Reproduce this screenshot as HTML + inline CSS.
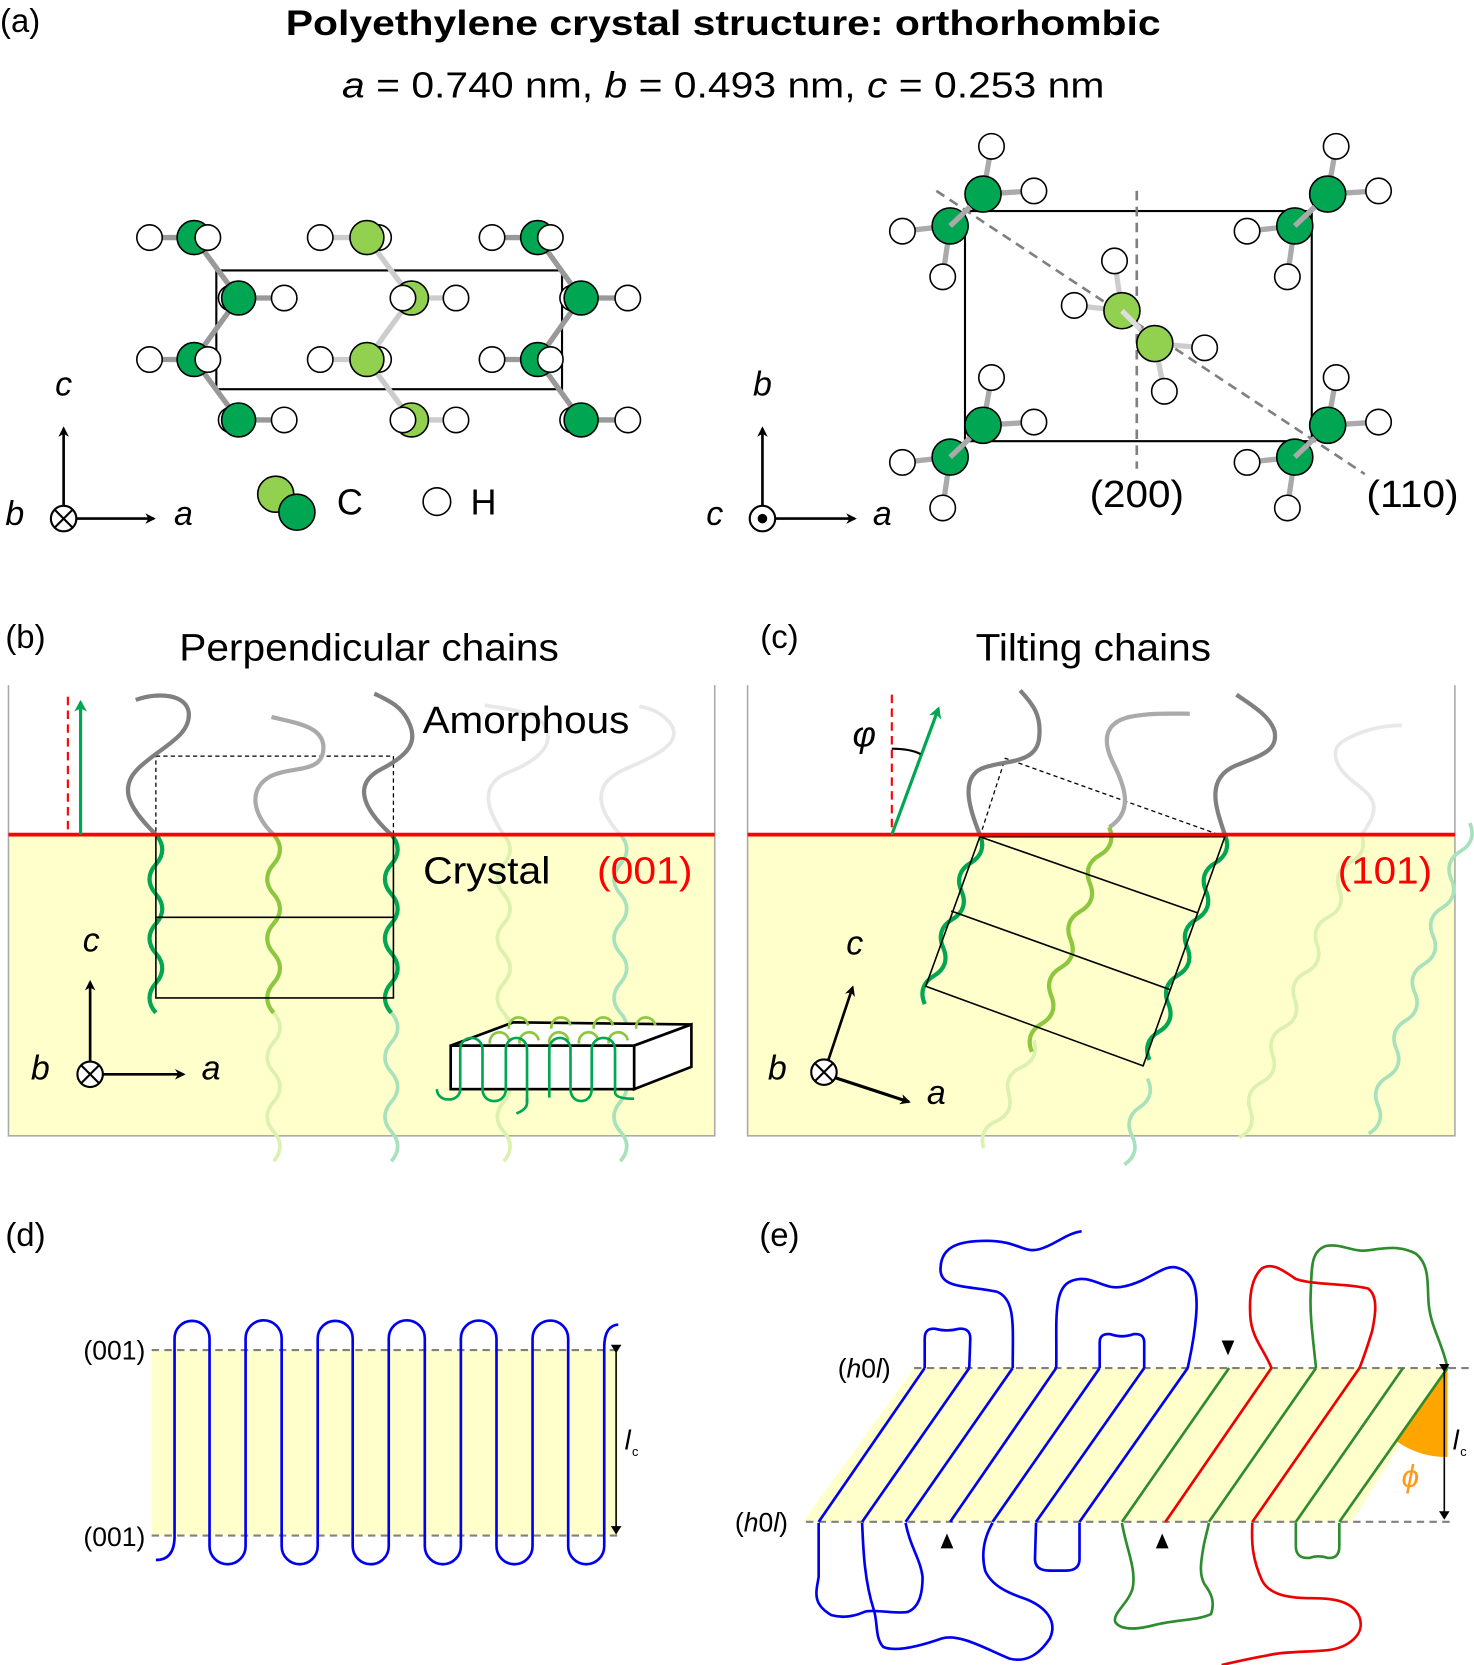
<!DOCTYPE html>
<html><head><meta charset="utf-8"><style>
html,body{margin:0;padding:0;background:#fff;}
svg{display:block;}
text{font-family:"Liberation Sans",Arial,sans-serif;}
</style></head><body>
<svg width="1474" height="1665" viewBox="0 0 1390 1570" preserveAspectRatio="none" xmlns="http://www.w3.org/2000/svg">
<defs>
<path id="w3" d="M0,0 c8,9 8,19 0,28 s-8,19 0,28 s8,19 0,28"/>
<path id="w4" d="M0,0 c8,9 8,19 0,28 s-8,19 0,28 s8,19 0,28 s-8,19 0,28"/>
<path id="w5" d="M0,0 c8,9 8,19 0,28 s-8,19 0,28 s8,19 0,28 s-8,19 0,28 s8,19 0,28"/>
<path id="w6" d="M0,0 c8,9 8,19 0,28 s-8,19 0,28 s8,19 0,28 s-8,19 0,28 s8,19 0,28 s-8,19 0,28"/>
<path id="w8" d="M0,0 c8,9 8,19 0,28 s-8,19 0,28 s8,19 0,28 s-8,19 0,28 s8,19 0,28 s-8,19 0,28 s8,19 0,28 s-8,19 0,28"/>
<path id="w11" d="M0,0 c8,9 8,19 0,28 s-8,19 0,28 s8,19 0,28 s-8,19 0,28 s8,19 0,28 s-8,19 0,28 s8,19 0,28 s-8,19 0,28 s8,19 0,28 s-8,19 0,28 s8,19 0,28"/>
<marker id="ah" markerWidth="10" markerHeight="10" refX="8" refY="5" orient="auto" markerUnits="userSpaceOnUse"><path d="M0,0 L10,5 L0,10 L3,5 Z" fill="#000"/></marker>
<marker id="ahg" markerWidth="12" markerHeight="12" refX="9" refY="6" orient="auto" markerUnits="userSpaceOnUse"><path d="M0,0 L11,6 L0,12 L3,6 Z" fill="#00a651"/></marker>
<marker id="ahs" markerWidth="8" markerHeight="10" refX="7" refY="5" orient="auto" markerUnits="userSpaceOnUse"><path d="M0,0 L8,5 L0,10 Z" fill="#000"/></marker>
</defs>

<!-- ============ (a) ============ -->
<text x="0" y="30" font-size="31">(a)</text>
<text x="682" y="33" font-size="33" font-weight="bold" text-anchor="middle" textLength="825" lengthAdjust="spacingAndGlyphs">Polyethylene crystal structure: orthorhombic</text>
<text x="682" y="92" font-size="34" text-anchor="middle" textLength="719" lengthAdjust="spacingAndGlyphs"><tspan font-style="italic">a</tspan> = 0.740 nm, <tspan font-style="italic">b</tspan> = 0.493 nm, <tspan font-style="italic">c</tspan> = 0.253 nm</text>

<!-- left structure -->
<rect x="204" y="255" width="326" height="112" fill="none" stroke="#000" stroke-width="2"/>
<g stroke="#999" stroke-width="5">
<polyline points="183,224 225,281 183,339 225,396" fill="none"/>
<polyline points="507,224 548,281 507,339 548,396" fill="none"/>
<line x1="141" y1="224" x2="183" y2="224"/><line x1="141" y1="339" x2="183" y2="339"/>
<line x1="464" y1="224" x2="507" y2="224"/><line x1="464" y1="339" x2="507" y2="339"/>
<line x1="225" y1="281" x2="268" y2="281"/><line x1="225" y1="396" x2="268" y2="396"/>
<line x1="548" y1="281" x2="592" y2="281"/><line x1="548" y1="396" x2="592" y2="396"/>
</g>
<g stroke="#ccc" stroke-width="5">
<polyline points="346,224 388,281 346,339 388,396" fill="none"/>
<line x1="302" y1="224" x2="346" y2="224"/><line x1="302" y1="339" x2="346" y2="339"/>
<line x1="388" y1="281" x2="430" y2="281"/><line x1="388" y1="396" x2="430" y2="396"/>
</g>
<g stroke="#000" stroke-width="1.5">
<circle cx="357" cy="224" r="12" fill="#fff"/><circle cx="357" cy="339" r="12" fill="#fff"/>
<circle cx="218" cy="281" r="12" fill="#fff"/><circle cx="218" cy="396" r="12" fill="#fff"/>
<circle cx="540" cy="281" r="12" fill="#fff"/><circle cx="540" cy="396" r="12" fill="#fff"/>
<circle cx="183" cy="224" r="16" fill="#00a651"/><circle cx="183" cy="339" r="16" fill="#00a651"/>
<circle cx="507" cy="224" r="16" fill="#00a651"/><circle cx="507" cy="339" r="16" fill="#00a651"/>
<circle cx="225" cy="281" r="16" fill="#00a651"/><circle cx="225" cy="396" r="16" fill="#00a651"/>
<circle cx="548" cy="281" r="16" fill="#00a651"/><circle cx="548" cy="396" r="16" fill="#00a651"/>
<circle cx="346" cy="224" r="16" fill="#92d050"/><circle cx="346" cy="339" r="16" fill="#92d050"/>
<circle cx="388" cy="281" r="16" fill="#92d050"/><circle cx="388" cy="396" r="16" fill="#92d050"/>
<circle cx="141" cy="224" r="12" fill="#fff"/><circle cx="196" cy="224" r="12" fill="#fff"/>
<circle cx="141" cy="339" r="12" fill="#fff"/><circle cx="196" cy="339" r="12" fill="#fff"/>
<circle cx="302" cy="224" r="12" fill="#fff"/><circle cx="302" cy="339" r="12" fill="#fff"/>
<circle cx="464" cy="224" r="12" fill="#fff"/><circle cx="519" cy="224" r="12" fill="#fff"/>
<circle cx="464" cy="339" r="12" fill="#fff"/><circle cx="519" cy="339" r="12" fill="#fff"/>
<circle cx="268" cy="281" r="12" fill="#fff"/><circle cx="268" cy="396" r="12" fill="#fff"/>
<circle cx="380" cy="281" r="12" fill="#fff"/><circle cx="430" cy="281" r="12" fill="#fff"/>
<circle cx="380" cy="396" r="12" fill="#fff"/><circle cx="430" cy="396" r="12" fill="#fff"/>
<circle cx="592" cy="281" r="12" fill="#fff"/><circle cx="592" cy="396" r="12" fill="#fff"/>
</g>
<line x1="60" y1="477" x2="60" y2="404" stroke="#000" stroke-width="2.5" marker-end="url(#ah)"/>
<line x1="72" y1="489" x2="145" y2="489" stroke="#000" stroke-width="2.5" marker-end="url(#ah)"/>
<circle cx="60" cy="489" r="12" fill="#fff" stroke="#000" stroke-width="2"/>
<line x1="52" y1="481" x2="68" y2="497" stroke="#000" stroke-width="2"/><line x1="68" y1="481" x2="52" y2="497" stroke="#000" stroke-width="2"/>
<text x="60" y="373" font-size="32" font-style="italic" text-anchor="middle">c</text>
<text x="14" y="495" font-size="32" font-style="italic" text-anchor="middle">b</text>
<text x="173" y="495" font-size="32" font-style="italic" text-anchor="middle">a</text>
<circle cx="260" cy="466" r="17" fill="#92d050" stroke="#000" stroke-width="1.5"/>
<circle cx="280" cy="483" r="17" fill="#00a651" stroke="#000" stroke-width="1.5"/>
<text x="330" y="485" font-size="34" text-anchor="middle">C</text>
<circle cx="412" cy="473" r="13" fill="#fff" stroke="#000" stroke-width="1.5"/>
<text x="456" y="485" font-size="34" text-anchor="middle">H</text>

<!-- right structure -->
<rect x="910" y="199" width="327" height="217" fill="none" stroke="#000" stroke-width="2"/>
<g stroke="#aaa" stroke-width="5">
<g id="cnr">
<line x1="896" y1="213" x2="927" y2="183"/><line x1="927" y1="183" x2="935" y2="138"/><line x1="927" y1="183" x2="975" y2="180"/>
<line x1="896" y1="213" x2="851" y2="218"/><line x1="896" y1="213" x2="889" y2="261"/>
</g>
<use href="#cnr" transform="translate(325,0)"/><use href="#cnr" transform="translate(0,218)"/><use href="#cnr" transform="translate(325,218)"/>
</g>
<g stroke="#ccc" stroke-width="5">
<line x1="1058" y1="293" x2="1089" y2="324"/><line x1="1058" y1="293" x2="1051" y2="246"/><line x1="1058" y1="293" x2="1013" y2="288"/>
<line x1="1089" y1="324" x2="1136" y2="328"/><line x1="1089" y1="324" x2="1098" y2="369"/>
</g>
<line x1="1072" y1="180" x2="1072" y2="442" stroke="#808080" stroke-width="2.5" stroke-dasharray="9,6"/>
<line x1="883" y1="180" x2="1287" y2="447" stroke="#808080" stroke-width="2.5" stroke-dasharray="9,6"/>
<g stroke="#000" stroke-width="1.5">
<g id="cnrA">
<circle cx="935" cy="138" r="12" fill="#fff"/><circle cx="975" cy="180" r="12" fill="#fff"/>
<circle cx="851" cy="218" r="12" fill="#fff"/><circle cx="889" cy="261" r="12" fill="#fff"/>
<circle cx="927" cy="183" r="17" fill="#00a651"/><circle cx="896" cy="213" r="17" fill="#00a651"/>
</g>
<use href="#cnrA" transform="translate(325,0)"/><use href="#cnrA" transform="translate(0,218)"/><use href="#cnrA" transform="translate(325,218)"/>
<circle cx="1051" cy="246" r="12" fill="#fff"/><circle cx="1013" cy="288" r="12" fill="#fff"/>
<circle cx="1136" cy="328" r="12" fill="#fff"/><circle cx="1098" cy="369" r="12" fill="#fff"/>
<circle cx="1058" cy="293" r="17" fill="#92d050"/><circle cx="1089" cy="324" r="17" fill="#92d050"/>
</g>
<g stroke="#aaa" stroke-width="5">
<line x1="896" y1="213" x2="915" y2="195"/><line x1="1221" y1="213" x2="1240" y2="195"/>
<line x1="896" y1="431" x2="915" y2="413"/><line x1="1221" y1="431" x2="1240" y2="413"/>
</g>
<g stroke="#ddd" stroke-width="5"><line x1="1058" y1="293" x2="1075" y2="310"/></g>
<text x="1072" y="478" font-size="36" text-anchor="middle" textLength="89" lengthAdjust="spacingAndGlyphs">(200)</text>
<text x="1332" y="478" font-size="36" text-anchor="middle" textLength="87" lengthAdjust="spacingAndGlyphs">(110)</text>
<line x1="719" y1="477" x2="719" y2="404" stroke="#000" stroke-width="2.5" marker-end="url(#ah)"/>
<line x1="731" y1="489" x2="806" y2="489" stroke="#000" stroke-width="2.5" marker-end="url(#ah)"/>
<circle cx="719" cy="489" r="12" fill="#fff" stroke="#000" stroke-width="2"/>
<circle cx="719" cy="489" r="4.5" fill="#000"/>
<text x="719" y="373" font-size="32" font-style="italic" text-anchor="middle">b</text>
<text x="674" y="495" font-size="32" font-style="italic" text-anchor="middle">c</text>
<text x="832" y="495" font-size="32" font-style="italic" text-anchor="middle">a</text>

<!-- ============ (b) ============ -->
<text x="24" y="611" font-size="31" text-anchor="middle">(b)</text>
<text x="348" y="623" font-size="36" text-anchor="middle" textLength="358" lengthAdjust="spacingAndGlyphs">Perpendicular chains</text>
<rect x="8" y="787" width="666" height="284" fill="#ffffcc"/>
<path d="M8,787 V646 M674,646 V1071 H8 V787" fill="none" stroke="#aaa" stroke-width="1.5"/>
<g fill="none" stroke-width="3.5">
<path d="M475,787 C460,765 450,740 480,728 C510,716 525,700 512,682 C500,670 475,668 457,665" stroke="#e8e8e8"/>
<path d="M585,787 C565,765 555,740 590,725 C620,712 645,700 632,682 C622,670 612,668 603,666" stroke="#e8e8e8"/>
<use href="#w11" transform="translate(475,787)" stroke="#dcf0b0"/>
<use href="#w11" transform="translate(585,787)" stroke="#a8e2bc"/>
<use href="#w5" transform="translate(258,955)" stroke="#dcf0b0"/>
<use href="#w5" transform="translate(369,955)" stroke="#a8e2bc"/>
</g>
<rect x="147" y="713" width="224" height="74" fill="none" stroke="#000" stroke-width="1.2" stroke-dasharray="4,3"/>
<g fill="none" stroke-width="4">
<path d="M147,787 C125,765 110,745 130,725 C150,705 180,695 178,672 C176,655 150,652 128,660" stroke="#808080"/>
<path d="M258,787 C240,770 232,745 255,732 C275,722 305,730 305,705 C305,685 280,682 256,676" stroke="#aaa"/>
<path d="M369,787 C345,765 330,740 360,725 C385,712 395,700 385,680 C378,665 365,660 353,654" stroke="#808080"/>
<use href="#w6" transform="translate(147,787)" stroke="#00a651"/>
<use href="#w6" transform="translate(258,787)" stroke="#8dc63f"/>
<use href="#w6" transform="translate(369,787)" stroke="#00a651"/>
</g>
<rect x="147" y="787" width="224" height="154" fill="none" stroke="#000" stroke-width="1.5"/>
<line x1="147" y1="865" x2="371" y2="865" stroke="#000" stroke-width="1.5"/>
<line x1="8" y1="787" x2="674" y2="787" stroke="#f00" stroke-width="3.5"/>
<line x1="64" y1="657" x2="64" y2="787" stroke="#f00" stroke-width="2" stroke-dasharray="8,5"/>
<line x1="76" y1="787" x2="76" y2="662" stroke="#00a651" stroke-width="3" marker-end="url(#ahg)"/>
<text x="496" y="691" font-size="36" text-anchor="middle" textLength="195" lengthAdjust="spacingAndGlyphs">Amorphous</text>
<text x="459" y="833" font-size="36" text-anchor="middle" textLength="120" lengthAdjust="spacingAndGlyphs">Crystal</text>
<text x="608" y="833" font-size="36" fill="#f00" text-anchor="middle" textLength="90" lengthAdjust="spacingAndGlyphs">(001)</text>
<line x1="85" y1="1002" x2="85" y2="926" stroke="#000" stroke-width="2.5" marker-end="url(#ah)"/>
<line x1="97" y1="1013" x2="173" y2="1013" stroke="#000" stroke-width="2.5" marker-end="url(#ah)"/>
<circle cx="85" cy="1013" r="12" fill="#fff" stroke="#000" stroke-width="2"/>
<line x1="77" y1="1005" x2="93" y2="1021" stroke="#000" stroke-width="2"/><line x1="93" y1="1005" x2="77" y2="1021" stroke="#000" stroke-width="2"/>
<text x="86" y="897" font-size="32" font-style="italic" text-anchor="middle">c</text>
<text x="38" y="1018" font-size="32" font-style="italic" text-anchor="middle">b</text>
<text x="199" y="1018" font-size="32" font-style="italic" text-anchor="middle">a</text>
<polygon points="425,986 484,964 652,966 598,986" fill="#fff" stroke="#000" stroke-width="2.5"/>
<polygon points="598,986 652,966 652,1006 598,1027" fill="#fff" stroke="#000" stroke-width="2.5"/>
<rect x="425" y="986" width="173" height="41" fill="#fff" stroke="#000" stroke-width="2.5"/>
<g fill="none" stroke="#8dc63f" stroke-width="2.5">
<path d="M462,984 a9,9 0 0 1 18,-3"/><path d="M490,984 a9,9 0 0 1 18,-3"/><path d="M518,984 a9,9 0 0 1 18,-3"/><path d="M546,984 a9,9 0 0 1 18,-3"/><path d="M574,984 a9,9 0 0 1 18,-3"/>
<path d="M480,970 a9,9 0 0 1 18,-3"/><path d="M520,970 a9,9 0 0 1 18,-3"/><path d="M560,970 a9,9 0 0 1 18,-3"/><path d="M600,970 a9,9 0 0 1 18,-3"/>
</g>
<path d="M412,1027 C412,1040 434,1040 434,1027 L434,990 C434,975 455,975 455,990 L455,1027 C455,1042 477,1042 477,1027 L477,990 C477,975 497,975 497,990 L497,1027 M497,1035 L497,1040 Q497,1046 487,1050 M518,1027 L518,990 C518,975 538,975 538,990 L538,1027 C538,1042 558,1042 558,1027 L558,990 C558,975 580,975 580,990 L580,1030 Q580,1036 598,1036" fill="none" stroke="#00a651" stroke-width="2.5"/>
<path d="M497,1027 L497,1040 M518,1027 L518,1035" fill="none" stroke="#00a651" stroke-width="2.5"/>

<!-- ============ (c) ============ -->
<text x="735" y="611" font-size="31" text-anchor="middle">(c)</text>
<text x="1031" y="623" font-size="36" text-anchor="middle" textLength="222" lengthAdjust="spacingAndGlyphs">Tilting chains</text>
<rect x="705" y="787" width="667" height="284" fill="#ffffcc"/>
<path d="M705,787 V646 M1372,646 V1071 H705 V787" fill="none" stroke="#aaa" stroke-width="1.5"/>
<g fill="none" stroke-width="3.5">
<path d="M1284,787 C1300,765 1300,755 1280,740 C1255,722 1255,705 1268,698 C1285,688 1305,684 1322,684" stroke="#e8e8e8"/>
<use href="#w11" transform="translate(1284,787) rotate(22)" stroke="#dcf0b0"/>
<use href="#w11" transform="translate(1386,776) rotate(18)" stroke="#a8e2bc"/>
<use href="#w4" transform="translate(975,981) rotate(25)" stroke="#dcf0b0"/>
<use href="#w3" transform="translate(1082,1017) rotate(15)" stroke="#a8e2bc"/>
</g>
<path d="M924,789 L948,715 L1155,789" fill="none" stroke="#000" stroke-width="1.2" stroke-dasharray="4,3"/>
<g fill="none" stroke-width="4">
<path d="M924,787 C915,765 905,735 925,725 C945,716 978,722 980,695 C982,675 975,665 962,651" stroke="#808080"/>
<path d="M1046,780 C1070,765 1060,740 1050,720 C1040,700 1040,682 1065,676 C1085,672 1105,673 1122,673" stroke="#aaa"/>
<path d="M1155,787 C1148,765 1135,735 1165,722 C1190,712 1205,708 1202,690 C1198,675 1180,665 1166,655" stroke="#808080"/>
<use href="#w6" transform="translate(924,787) rotate(18)" stroke="#00a651"/>
<use href="#w8" transform="translate(1046,780) rotate(19)" stroke="#8dc63f"/>
<use href="#w8" transform="translate(1155,787) rotate(18.5)" stroke="#00a651"/>
</g>
<g stroke="#000" stroke-width="1.5" fill="none">
<polygon points="924,789 1155,789 1078,1005 873,930"/>
<line x1="924" y1="789" x2="1130" y2="861"/>
<line x1="897" y1="859" x2="1103" y2="933"/>
</g>
<line x1="705" y1="787" x2="1372" y2="787" stroke="#f00" stroke-width="3.5"/>
<line x1="841" y1="655" x2="841" y2="787" stroke="#f00" stroke-width="2" stroke-dasharray="8,5"/>
<line x1="841" y1="787" x2="885" y2="668" stroke="#00a651" stroke-width="3" marker-end="url(#ahg)"/>
<path d="M841,706 Q858,706 868,711" fill="none" stroke="#000" stroke-width="2"/>
<text x="815" y="704" font-size="34" font-style="italic" text-anchor="middle">φ</text>
<text x="1306" y="833" font-size="36" fill="#f00" text-anchor="middle" textLength="89" lengthAdjust="spacingAndGlyphs">(101)</text>
<line x1="781" y1="1000" x2="804" y2="931" stroke="#000" stroke-width="2.5" marker-end="url(#ah)"/>
<line x1="787" y1="1016" x2="857" y2="1039" stroke="#000" stroke-width="3" marker-end="url(#ah)"/>
<circle cx="777" cy="1011" r="12" fill="#fff" stroke="#000" stroke-width="2"/>
<line x1="769" y1="1003" x2="785" y2="1019" stroke="#000" stroke-width="2"/><line x1="785" y1="1003" x2="769" y2="1019" stroke="#000" stroke-width="2"/>
<text x="806" y="900" font-size="32" font-style="italic" text-anchor="middle">c</text>
<text x="733" y="1018" font-size="32" font-style="italic" text-anchor="middle">b</text>
<text x="883" y="1041" font-size="32" font-style="italic" text-anchor="middle">a</text>

<!-- ============ (d) ============ -->
<text x="24" y="1175" font-size="31" text-anchor="middle">(d)</text>
<rect x="143" y="1273" width="440" height="175" fill="#ffffcc"/>
<line x1="143" y1="1273" x2="583" y2="1273" stroke="#808080" stroke-width="2" stroke-dasharray="7,5"/>
<line x1="143" y1="1448" x2="583" y2="1448" stroke="#808080" stroke-width="2" stroke-dasharray="7,5"/>
<text x="137" y="1282" font-size="25" text-anchor="end">(001)</text>
<text x="137" y="1458" font-size="25" text-anchor="end">(001)</text>
<path d="M147,1471 Q164,1471 164.6,1450 L164.6,1262 A16.5,16.5 0 0 1 197.6,1262 L197.6,1458 A17,17 0 0 0 231.6,1458 L231.6,1262 A17,17 0 0 1 265.6,1262 L265.6,1458 A17,17 0 0 0 299.6,1458 L299.6,1262 A16.5,16.5 0 0 1 332.6,1262 L332.6,1458 A17,17 0 0 0 366.6,1458 L366.6,1262 A17,17 0 0 1 400.6,1262 L400.6,1458 A17,17 0 0 0 434.6,1458 L434.6,1262 A16.8,16.8 0 0 1 468.2,1262 L468.2,1458 A17,17 0 0 0 502.2,1458 L502.2,1262 A16.8,16.8 0 0 1 535.8,1262 L535.8,1458 A17,17 0 0 0 569.8,1458 L569.8,1270 Q570,1250 583,1249" fill="none" stroke="#0000ee" stroke-width="2.5"/>
<line x1="581" y1="1275" x2="581" y2="1446" stroke="#000" stroke-width="1.5" marker-start="url(#ahs)" marker-end="url(#ahs)"/>
<text x="589" y="1367" font-size="26" font-style="italic">l</text><text x="596" y="1373" font-size="12">c</text>

<!-- ============ (e) ============ -->
<text x="735" y="1175" font-size="31" text-anchor="middle">(e)</text>
<polygon points="862,1290 1365,1290 1275,1435 757,1435" fill="#ffffcc"/>
<path d="M1365,1290 L1316.6,1358.8 A84,84 0 0 0 1365,1374 Z" fill="#ffa500"/>
<line x1="862" y1="1290" x2="1385" y2="1290" stroke="#808080" stroke-width="2" stroke-dasharray="7,5"/>
<line x1="760" y1="1435" x2="1370" y2="1435" stroke="#808080" stroke-width="2" stroke-dasharray="7,5"/>
<g stroke-width="2.5" fill="none">
<g stroke="#0000ee">
<line x1="872" y1="1290" x2="772" y2="1435"/><line x1="914" y1="1290" x2="813" y2="1435"/>
<line x1="955" y1="1290" x2="854" y2="1435"/><line x1="996" y1="1290" x2="896" y2="1435"/>
<line x1="1037" y1="1290" x2="936" y2="1435"/><line x1="1079" y1="1290" x2="977" y2="1435"/>
<line x1="1120" y1="1290" x2="1018" y2="1435"/>
<path d="M872,1290 L872,1262 Q872,1252 882,1253 Q893,1256 904,1253 Q915,1252 915,1262 L914,1290"/>
<path d="M955,1290 C955,1250 958,1225 940,1218 C910,1212 885,1215 887,1195 C888,1175 905,1170 930,1170 C960,1170 965,1182 980,1178 C995,1174 1005,1163 1020,1161"/>
<path d="M996,1290 C997,1250 992,1215 1010,1208 C1030,1200 1040,1218 1060,1213 C1085,1208 1098,1190 1112,1196 C1125,1200 1130,1215 1128,1240 C1126,1265 1122,1280 1120,1290"/>
<path d="M1037,1290 L1037,1266 Q1037,1257 1047,1258 Q1058,1262 1069,1258 Q1079,1257 1079,1266 L1079,1290"/>
<path d="M772,1436 L772,1487 C770,1500 765,1512 784,1523 C795,1526 806,1524 815,1520 C822,1517 845,1522 856,1520 C868,1515 870,1500 870,1487 C868,1470 858,1458 854,1436"/>
<path d="M813,1436 C814,1460 815,1490 824,1518 C828,1530 825,1545 833,1553 C845,1558 868,1552 888,1545 C905,1540 930,1555 952,1564 C968,1568 980,1560 990,1545 C998,1528 985,1515 968,1508 C950,1502 935,1495 929,1481 C925,1465 928,1450 936,1436"/>
<path d="M977,1436 L976,1470 Q976,1481 990,1481 L1005,1481 Q1018,1481 1018,1470 L1018,1436"/>
</g>
<g stroke="#2e8b2e">
<line x1="1159" y1="1290" x2="1058" y2="1435"/><line x1="1241" y1="1290" x2="1140" y2="1435"/>
<line x1="1323" y1="1290" x2="1222" y2="1435"/><line x1="1365" y1="1290" x2="1263" y2="1435"/>
<path d="M1241,1290 C1238,1260 1235,1240 1236,1220 C1237,1195 1236,1180 1250,1175 C1265,1172 1275,1181 1290,1179 C1305,1177 1320,1174 1335,1182 C1348,1192 1346,1210 1347,1226 C1348,1250 1360,1265 1365,1290"/>
<path d="M1058,1436 C1062,1460 1072,1480 1068,1498 C1064,1512 1048,1522 1052,1530 C1058,1538 1075,1536 1090,1532 C1110,1527 1130,1528 1142,1522 C1146,1510 1142,1502 1136,1494 C1130,1484 1133,1470 1135,1458 C1137,1448 1139,1442 1140,1436"/>
<path d="M1222,1436 L1222,1458 Q1222,1470 1235,1469 Q1243,1466 1252,1469 Q1263,1470 1263,1458 L1263,1436"/>
</g>
<g stroke="#ee0000">
<line x1="1199" y1="1290" x2="1099" y2="1435"/><line x1="1282" y1="1290" x2="1181" y2="1435"/>
<path d="M1199,1290 C1192,1272 1180,1262 1179,1240 C1178,1222 1180,1205 1190,1196 C1200,1190 1210,1198 1222,1206 C1240,1212 1270,1210 1290,1215 C1300,1222 1297,1240 1294,1255 C1290,1268 1286,1280 1282,1290"/>
<path d="M1181,1436 C1180,1455 1181,1470 1190,1490 C1196,1502 1210,1507 1238,1507 C1258,1507 1276,1510 1282,1525 C1288,1542 1270,1554 1252,1556 C1232,1558 1212,1557 1195,1561 C1178,1564 1165,1567 1152,1570"/>
</g>
</g>
<line x1="1362" y1="1293" x2="1362" y2="1432" stroke="#000" stroke-width="1.5" marker-start="url(#ahs)" marker-end="url(#ahs)"/>
<text x="1370" y="1367" font-size="26" font-style="italic">l</text><text x="1377" y="1373" font-size="12">c</text>
<text x="1330" y="1402" font-size="30" font-style="italic" fill="#ff9a1a" text-anchor="middle">ϕ</text>
<polygon points="1152,1264 1164,1264 1158,1278" fill="#000"/>
<polygon points="887,1460 899,1460 893,1446" fill="#000"/>
<polygon points="1090,1460 1102,1460 1096,1446" fill="#000"/>
<text x="815" y="1299" font-size="25" text-anchor="middle">(<tspan font-style="italic">h</tspan>0<tspan font-style="italic">l</tspan>)</text>
<text x="718" y="1444" font-size="25" text-anchor="middle">(<tspan font-style="italic">h</tspan>0<tspan font-style="italic">l</tspan>)</text>
</svg>
</body></html>
